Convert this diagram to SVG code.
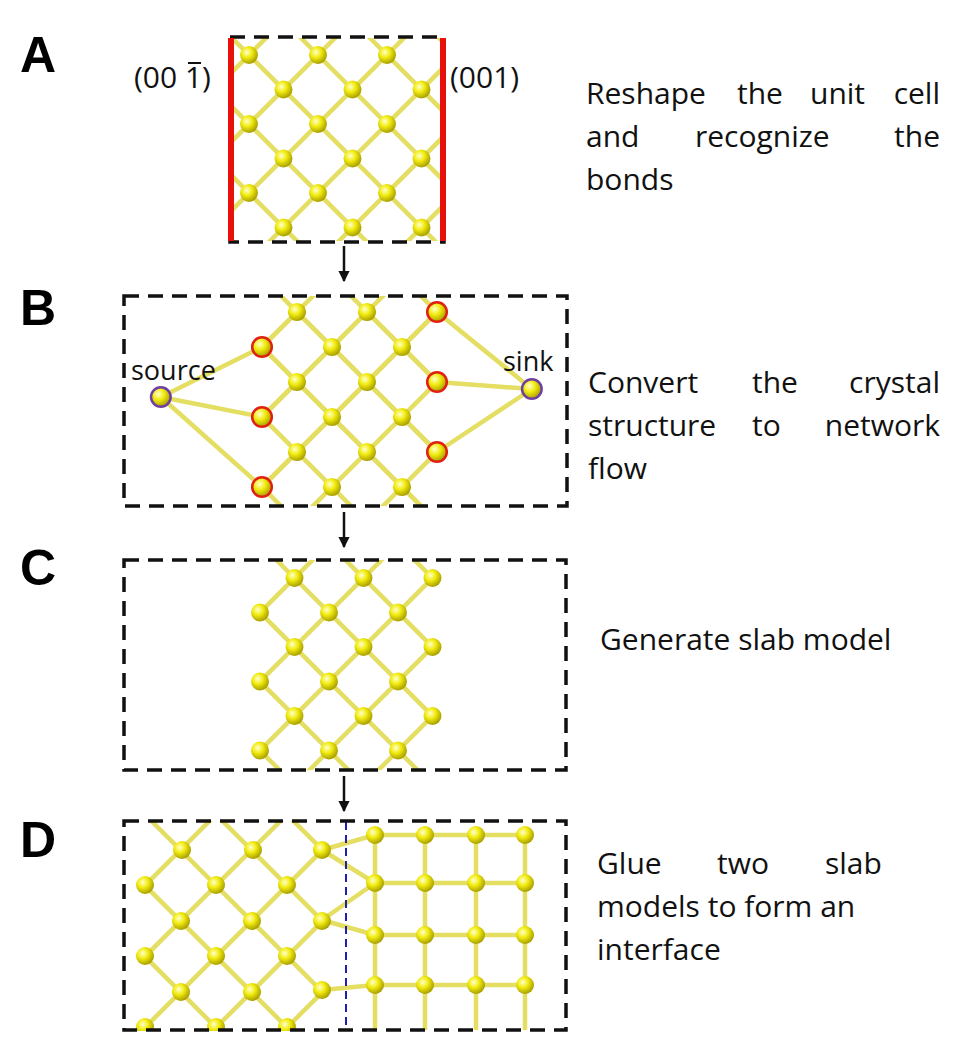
<svg xmlns="http://www.w3.org/2000/svg" width="959" height="1048" viewBox="0 0 959 1048">
<defs>
<radialGradient id="g" cx="0.38" cy="0.35" r="0.65">
<stop offset="0" stop-color="#ffffd0"/><stop offset="0.45" stop-color="#f2ec10"/><stop offset="1" stop-color="#aaa000"/>
</radialGradient>
<clipPath id="cA"><rect x="-0.49" y="-0.49" width="6.08" height="5.88"/></clipPath>
<clipPath id="cB"><rect x="-0.02" y="-0.46" width="5.04" height="6"/></clipPath>
<clipPath id="cC"><rect x="-0.02" y="-0.52" width="5.04" height="6.09"/></clipPath>
<clipPath id="cD"><rect x="-0.02" y="-0.82" width="5.04" height="5.88"/></clipPath>
<marker id="ar" viewBox="0 0 10 10" refX="9" refY="5" markerWidth="4.5" markerHeight="4.5" orient="auto"><path d="M0,0L10,5L0,10z" fill="#111"/></marker>
</defs>
<style>
.box{fill:none;stroke:#111;stroke-width:3.5;stroke-dasharray:15 9}
.b{stroke:#e4de62;stroke-width:4.5;fill:none;vector-effect:non-scaling-stroke}
.bd{stroke:#e4de62;stroke-width:4.5;fill:none}
.at{fill:url(#g)}
.rd{fill:url(#g);stroke:#e02010;stroke-width:2.5;vector-effect:non-scaling-stroke}
.pu{fill:url(#g);stroke:#7040a0;stroke-width:2.5;vector-effect:non-scaling-stroke}
.L{font-family:"Liberation Sans",Arial,sans-serif;font-weight:bold;font-size:50px;fill:#000}
.t{font-family:"Open Sans","Liberation Sans",sans-serif;font-size:30px;fill:#111}
.e{text-anchor:end}
.s{font-family:"Open Sans","Liberation Sans",sans-serif;font-size:27px;fill:#111}
.arr{stroke:#111;stroke-width:2.5;marker-end:url(#ar)}
</style>
<rect width="959" height="1048" fill="#fff"/>

<g id="labels">
<text class="L" x="20" y="72">A</text>
<text class="L" x="20" y="325">B</text>
<text class="L" x="20" y="585">C</text>
<text class="L" x="20" y="857">D</text>
</g>

<g id="panelA">
<g transform="translate(249,55) scale(34.5)">
<g clip-path="url(#cA)">
<path class="b" d="M-6,-6L12,12M-4,-6L12,10M-2,-6L12,8M0,-6L12,6M2,-6L12,4M4,-6L12,2M6,-6L12,0M-6,-4L10,12M-6,-2L8,12M-6,0L6,12M-6,2L4,12M-6,4L2,12M-6,6L0,12
M6,-6L-6,6M8,-6L-6,8M10,-6L-6,10M12,-6L-6,12M12,-4L-4,12M12,-2L-2,12M12,0L0,12M12,2L2,12M12,4L4,12M4,-6L-6,4M2,-6L-6,2M0,-6L-6,0"/>
</g>
<g class="at">
<circle cx="0" cy="0" r="0.26"/><circle cx="2" cy="0" r="0.26"/><circle cx="4" cy="0" r="0.26"/>
<circle cx="1" cy="1" r="0.26"/><circle cx="3" cy="1" r="0.26"/><circle cx="5" cy="1" r="0.26"/>
<circle cx="0" cy="2" r="0.26"/><circle cx="2" cy="2" r="0.26"/><circle cx="4" cy="2" r="0.26"/>
<circle cx="1" cy="3" r="0.26"/><circle cx="3" cy="3" r="0.26"/><circle cx="5" cy="3" r="0.26"/>
<circle cx="0" cy="4" r="0.26"/><circle cx="2" cy="4" r="0.26"/><circle cx="4" cy="4" r="0.26"/>
<circle cx="1" cy="5" r="0.26"/><circle cx="3" cy="5" r="0.26"/><circle cx="5" cy="5" r="0.26"/>
</g>
</g>
<rect class="box" x="230" y="37" width="214" height="205"/>
<line x1="231" y1="38" x2="231" y2="241" stroke="#e8100a" stroke-width="6"/>
<line x1="443" y1="38" x2="443" y2="241" stroke="#e8100a" stroke-width="6"/>
<text class="t" x="134" y="88">(00 1)</text>
<line x1="188" y1="63" x2="201" y2="63" stroke="#111" stroke-width="2"/>
<text class="t" x="450" y="88">(001)</text>
<text class="t" x="586" y="104">Reshape</text><text class="t" x="737" y="104">the</text><text class="t" x="810" y="104">unit</text><text class="t e" x="940" y="104">cell</text>
<text class="t" x="586" y="147">and</text><text class="t" x="695" y="147">recognize</text><text class="t e" x="940" y="147">the</text>
<text class="t" x="586" y="190">bonds</text>
</g>

<g id="panelB">
<g transform="translate(262,312) scale(35)">
<g clip-path="url(#cB)">
<path class="b" d="M-7,0L5,12M-5,0L7,12M-3,0L9,12M-1,0L11,12M1,0L13,12M3,0L15,12M5,0L17,12M-9,0L3,12M-11,0L1,12M-13,0L-1,12
M1,0L-11,12M3,0L-9,12M5,0L-7,12M7,0L-5,12M9,0L-3,12M11,0L-1,12M13,0L1,12M15,0L3,12M17,0L5,12"/>
<path class="b" d="M-7,-6L5,6M-5,-6L7,6M-3,-6L9,6M-1,-6L11,6M1,-6L13,6M3,-6L15,6M1,-6L-11,6M3,-6L-9,6M5,-6L-7,6M7,-6L-5,6M9,-6L-3,6M11,-6L-1,6"/>
</g>
<path class="b" d="M-2.89,2.43L0,1M-2.89,2.43L0,3M-2.89,2.43L0,5M7.71,2.2L5,0M7.71,2.2L5,2M7.71,2.2L5,4"/>
<g class="at">
<circle cx="1" cy="0" r="0.26"/><circle cx="3" cy="0" r="0.26"/>
<circle cx="2" cy="1" r="0.26"/><circle cx="4" cy="1" r="0.26"/>
<circle cx="1" cy="2" r="0.26"/><circle cx="3" cy="2" r="0.26"/>
<circle cx="2" cy="3" r="0.26"/><circle cx="4" cy="3" r="0.26"/>
<circle cx="1" cy="4" r="0.26"/><circle cx="3" cy="4" r="0.26"/>
<circle cx="2" cy="5" r="0.26"/><circle cx="4" cy="5" r="0.26"/>
</g>
<g>
<circle class="rd" cx="0" cy="1" r="0.28"/><circle class="rd" cx="0" cy="3" r="0.28"/><circle class="rd" cx="0" cy="5" r="0.28"/>
<circle class="rd" cx="5" cy="0" r="0.28"/><circle class="rd" cx="5" cy="2" r="0.28"/><circle class="rd" cx="5" cy="4" r="0.28"/>
<circle class="pu" cx="-2.89" cy="2.43" r="0.28"/><circle class="pu" cx="7.71" cy="2.2" r="0.28"/>
</g>
</g>
<rect class="box" x="124" y="296" width="443" height="210"/>
<text class="s" x="131" y="380">source</text>
<text class="s" x="503" y="371">sink</text>
<text class="t" x="588" y="393">Convert</text><text class="t" x="752" y="393">the</text><text class="t e" x="940" y="393">crystal</text>
<text class="t" x="588" y="436">structure</text><text class="t" x="752" y="436">to</text><text class="t e" x="940" y="436">network</text>
<text class="t" x="588" y="479">flow</text>
</g>

<g id="panelC">
<g transform="translate(260,578) scale(34.5)">
<g clip-path="url(#cC)">
<path class="b" d="M-7,-6L5,6M-5,-6L7,6M-3,-6L9,6M-1,-6L11,6M1,-6L13,6M3,-6L15,6M-9,-6L3,6M-11,-6L1,6M1,-6L-11,6M3,-6L-9,6M5,-6L-7,6M7,-6L-5,6M9,-6L-3,6M11,-6L-1,6M13,-6L1,6M15,-6L3,6
M-7,0L5,12M-5,0L7,12M-3,0L9,12M-1,0L11,12M1,0L13,12M3,0L15,12M5,0L17,12M-9,0L3,12M-11,0L1,12M1,0L-11,12M3,0L-9,12M5,0L-7,12M7,0L-5,12M9,0L-3,12M11,0L-1,12M13,0L1,12M15,0L3,12"/>
</g>
<g class="at">
<circle cx="1" cy="0" r="0.26"/><circle cx="3" cy="0" r="0.26"/><circle cx="5" cy="0" r="0.26"/>
<circle cx="0" cy="1" r="0.26"/><circle cx="2" cy="1" r="0.26"/><circle cx="4" cy="1" r="0.26"/>
<circle cx="1" cy="2" r="0.26"/><circle cx="3" cy="2" r="0.26"/><circle cx="5" cy="2" r="0.26"/>
<circle cx="0" cy="3" r="0.26"/><circle cx="2" cy="3" r="0.26"/><circle cx="4" cy="3" r="0.26"/>
<circle cx="1" cy="4" r="0.26"/><circle cx="3" cy="4" r="0.26"/><circle cx="5" cy="4" r="0.26"/>
<circle cx="0" cy="5" r="0.26"/><circle cx="2" cy="5" r="0.26"/><circle cx="4" cy="5" r="0.26"/>
</g>
</g>
<rect class="box" x="124" y="560" width="442" height="210"/>
<text class="t" x="600" y="650">Generate slab model</text>
</g>

<g id="panelD">
<g transform="translate(145,850) scale(35.5)">
<g clip-path="url(#cD)">
<path class="b" d="M-7,-6L5,6M-5,-6L7,6M-3,-6L9,6M-1,-6L11,6M1,-6L13,6M3,-6L15,6M-9,-6L3,6M-11,-6L1,6M1,-6L-11,6M3,-6L-9,6M5,-6L-7,6M7,-6L-5,6M9,-6L-3,6M11,-6L-1,6M13,-6L1,6M15,-6L3,6
M-7,0L5,12M-5,0L7,12M-3,0L9,12M-1,0L11,12M1,0L13,12M3,0L15,12M5,0L17,12M-9,0L3,12M-11,0L1,12M1,0L-11,12M3,0L-9,12M5,0L-7,12M7,0L-5,12M9,0L-3,12M11,0L-1,12M13,0L1,12M15,0L3,12"/>
</g>
</g>
<path class="bd" d="M375,835V1030M425,835V1030M476,835V1030M525,835V1030M375,835H525M375,883H525M375,935H525M375,985H525
M322,850L375,835M322,850L375,883M322,920L375,883M322,920L375,935M322,990L375,985"/>
<g class="at">
<circle cx="182" cy="850" r="9"/><circle cx="253" cy="850" r="9"/><circle cx="322" cy="850" r="9"/>
<circle cx="145" cy="885" r="9"/><circle cx="216" cy="885" r="9"/><circle cx="287" cy="885" r="9"/>
<circle cx="181" cy="921" r="9"/><circle cx="252" cy="921" r="9"/><circle cx="322" cy="921" r="9"/>
<circle cx="145" cy="956" r="9"/><circle cx="216" cy="956" r="9"/><circle cx="287" cy="956" r="9"/>
<circle cx="181" cy="992" r="9"/><circle cx="252" cy="992" r="9"/><circle cx="322" cy="990" r="9"/>
<circle cx="145" cy="1027" r="9"/><circle cx="216" cy="1027" r="9"/><circle cx="287" cy="1027" r="9"/>
<circle cx="375" cy="835" r="9"/><circle cx="425" cy="835" r="9"/><circle cx="476" cy="835" r="9"/><circle cx="525" cy="835" r="9"/>
<circle cx="375" cy="883" r="9"/><circle cx="425" cy="883" r="9"/><circle cx="476" cy="883" r="9"/><circle cx="525" cy="883" r="9"/>
<circle cx="375" cy="935" r="9"/><circle cx="425" cy="935" r="9"/><circle cx="476" cy="935" r="9"/><circle cx="525" cy="935" r="9"/>
<circle cx="375" cy="985" r="9"/><circle cx="425" cy="985" r="9"/><circle cx="476" cy="985" r="9"/><circle cx="525" cy="985" r="9"/>
</g>
<rect x="120" y="1031" width="450" height="17" fill="#fff"/>
<line x1="346" y1="822" x2="346" y2="1030" stroke="#2020b0" stroke-width="2" stroke-dasharray="8 5"/>
<rect class="box" x="124" y="821" width="442" height="209"/>
<text class="t" x="597" y="874">Glue</text><text class="t" x="717" y="874">two</text><text class="t" x="825" y="874">slab</text>
<text class="t" x="597" y="917">models to form an</text>
<text class="t" x="597" y="960">interface</text>
</g>

<g id="connectors">
<line class="arr" x1="344" y1="246" x2="344" y2="281"/>
<line class="arr" x1="344" y1="512" x2="344" y2="547"/>
<line class="arr" x1="344" y1="776" x2="344" y2="811"/>
</g>
</svg>
